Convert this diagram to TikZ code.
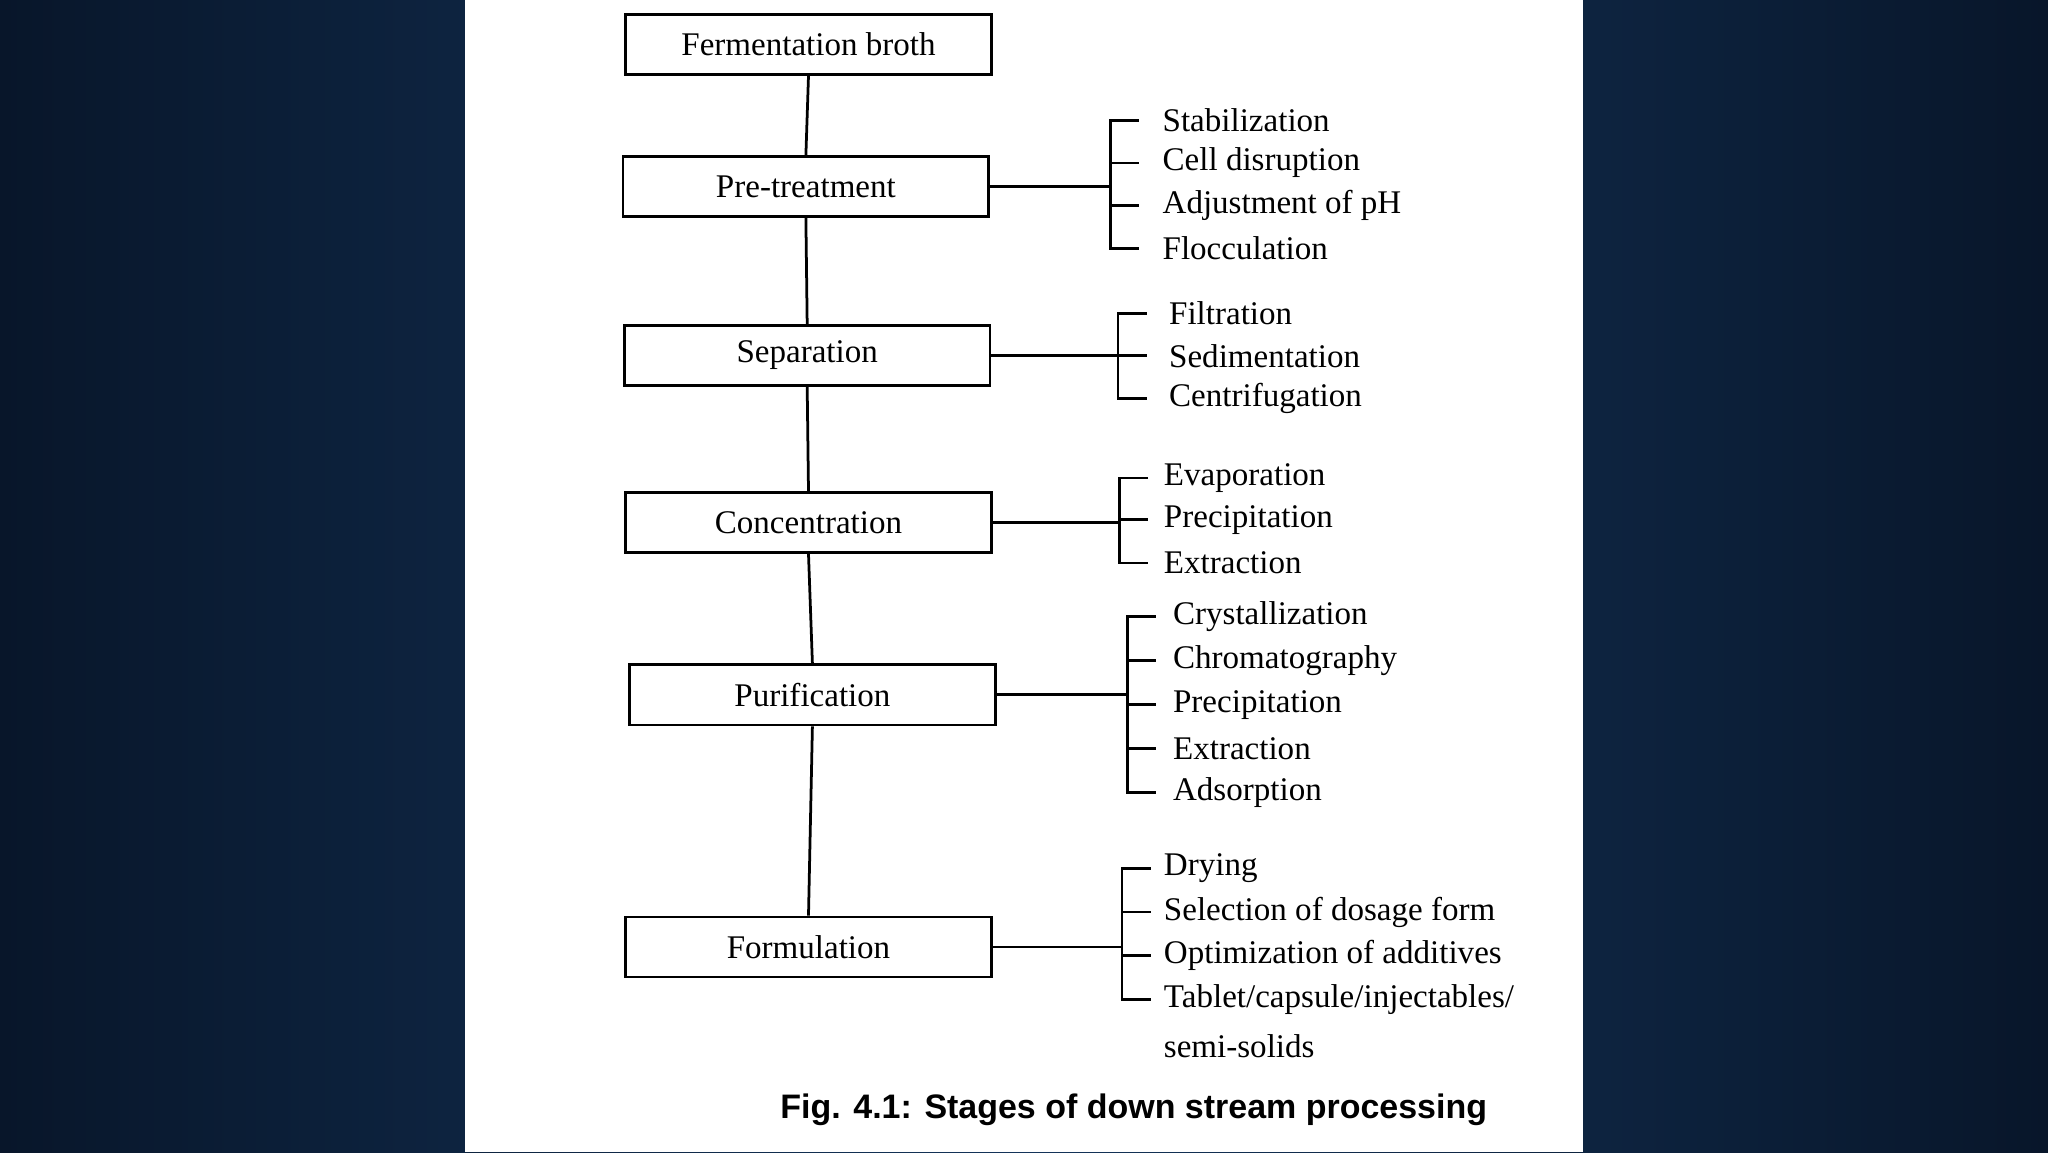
\documentclass[tikz,border=0pt]{standalone}
\usepackage{fontspec}
\setmainfont{Liberation Serif}
\newfontfamily\capfont{Liberation Sans}
\begin{document}
\begin{tikzpicture}[x=0.05cm,y=-0.05cm,
  stage/.style={draw,line width=3pt,minimum width=280*0.05cm,minimum height=46*0.05cm,inner sep=0pt,font=\fontsize{36}{42}\selectfont},
  item/.style={anchor=west,inner sep=0pt,font=\fontsize{36}{42}\selectfont},
  ln/.style={line width=3pt}]
\useasboundingbox (0,0) rectangle (1568,882);
\shade[left color={rgb,255:red,8;green,22;blue,42},right color={rgb,255:red,8;green,22;blue,42},middle color={rgb,255:red,20;green,52;blue,90}] (0,0) rectangle (1568,882);
\fill[white] (356,0) rectangle (1212,882);
\node[stage] (fb) at (619,34) {Fermentation broth};
\node[stage] (pt) at (617,143) {Pre-treatment};
\node[stage] (sp) at (618,272) {Separation};
\node[stage] (cc) at (619,400) {Concentration};
\node[stage] (pu) at (622,532) {Purification};
\node[stage] (fo) at (619,725) {Formulation};
\draw[ln] (fb.south) -- (pt.north);
\draw[ln] (pt.south) -- (sp.north);
\draw[ln] (sp.south) -- (cc.north);
\draw[ln] (cc.south) -- (pu.north);
\draw[ln] (pu.south) -- (fo.north);
% pre-treatment
\foreach \t [count=\i] in {Stabilization,Cell disruption,Adjustment of pH,Flocculation}
  \node[item] (p\i) at (890,{92+32.7*(\i-1)}) {\t};
\coordinate (pb) at (850,143);
\draw[ln] (pt.east) -- (pb);
\draw[ln] (872,92) -| (850,190) -- (872,190);
\foreach \i in {2,3} \draw[ln] (850,{92+32.7*(\i-1)}) -- (872,{92+32.7*(\i-1)});
% separation
\foreach \t [count=\i] in {Filtration,Sedimentation,Centrifugation}
  \node[item] (s\i) at (895,{240+32.5*(\i-1)}) {\t};
\coordinate (sb) at (856,272);
\draw[ln] (sp.east) -- (sb);
\draw[ln] (878,240) -| (856,305) -- (878,305);
\draw[ln] (856,272) -- (878,272);
% concentration
\foreach \t [count=\i] in {Evaporation,Precipitation,Extraction}
  \node[item] (c\i) at (891,{366+32.5*(\i-1)}) {\t};
\coordinate (cb) at (857,400);
\draw[ln] (cc.east) -- (cb);
\draw[ln] (879,366) -| (857,431) -- (879,431);
\draw[ln] (857,398) -- (879,398);
% purification
\foreach \t [count=\i] in {Crystallization,Chromatography,Precipitation,Extraction,Adsorption}
  \node[item] (u\i) at (898,{472+33.75*(\i-1)}) {\t};
\coordinate (ub) at (863,532);
\draw[ln] (pu.east) -- (ub);
\draw[ln] (885,472) -| (863,607) -- (885,607);
\foreach \i in {2,3,4} \draw[ln] (863,{472+33.75*(\i-1)}) -- (885,{472+33.75*(\i-1)});
% formulation
\foreach \t [count=\i] in {Drying,Selection of dosage form,Optimization of additives,Tablet/capsule/injectables/}
  \node[item] (f\i) at (891,{665+33.3*(\i-1)}) {\t};
\node[item] (f5) at (891,801) {semi-solids};
\coordinate (fbk) at (859,725);
\draw[ln] (fo.east) -- (fbk);
\draw[ln] (881,665) -| (859,765) -- (881,765);
\foreach \i in {2,3} \draw[ln] (859,{665+33.3*(\i-1)}) -- (881,{665+33.3*(\i-1)});
\node[font=\capfont\bfseries\fontsize{37}{44}\selectfont] (cap) at (868,850) {Fig. 4.1: Stages of down stream processing};
\end{tikzpicture}
\end{document}
